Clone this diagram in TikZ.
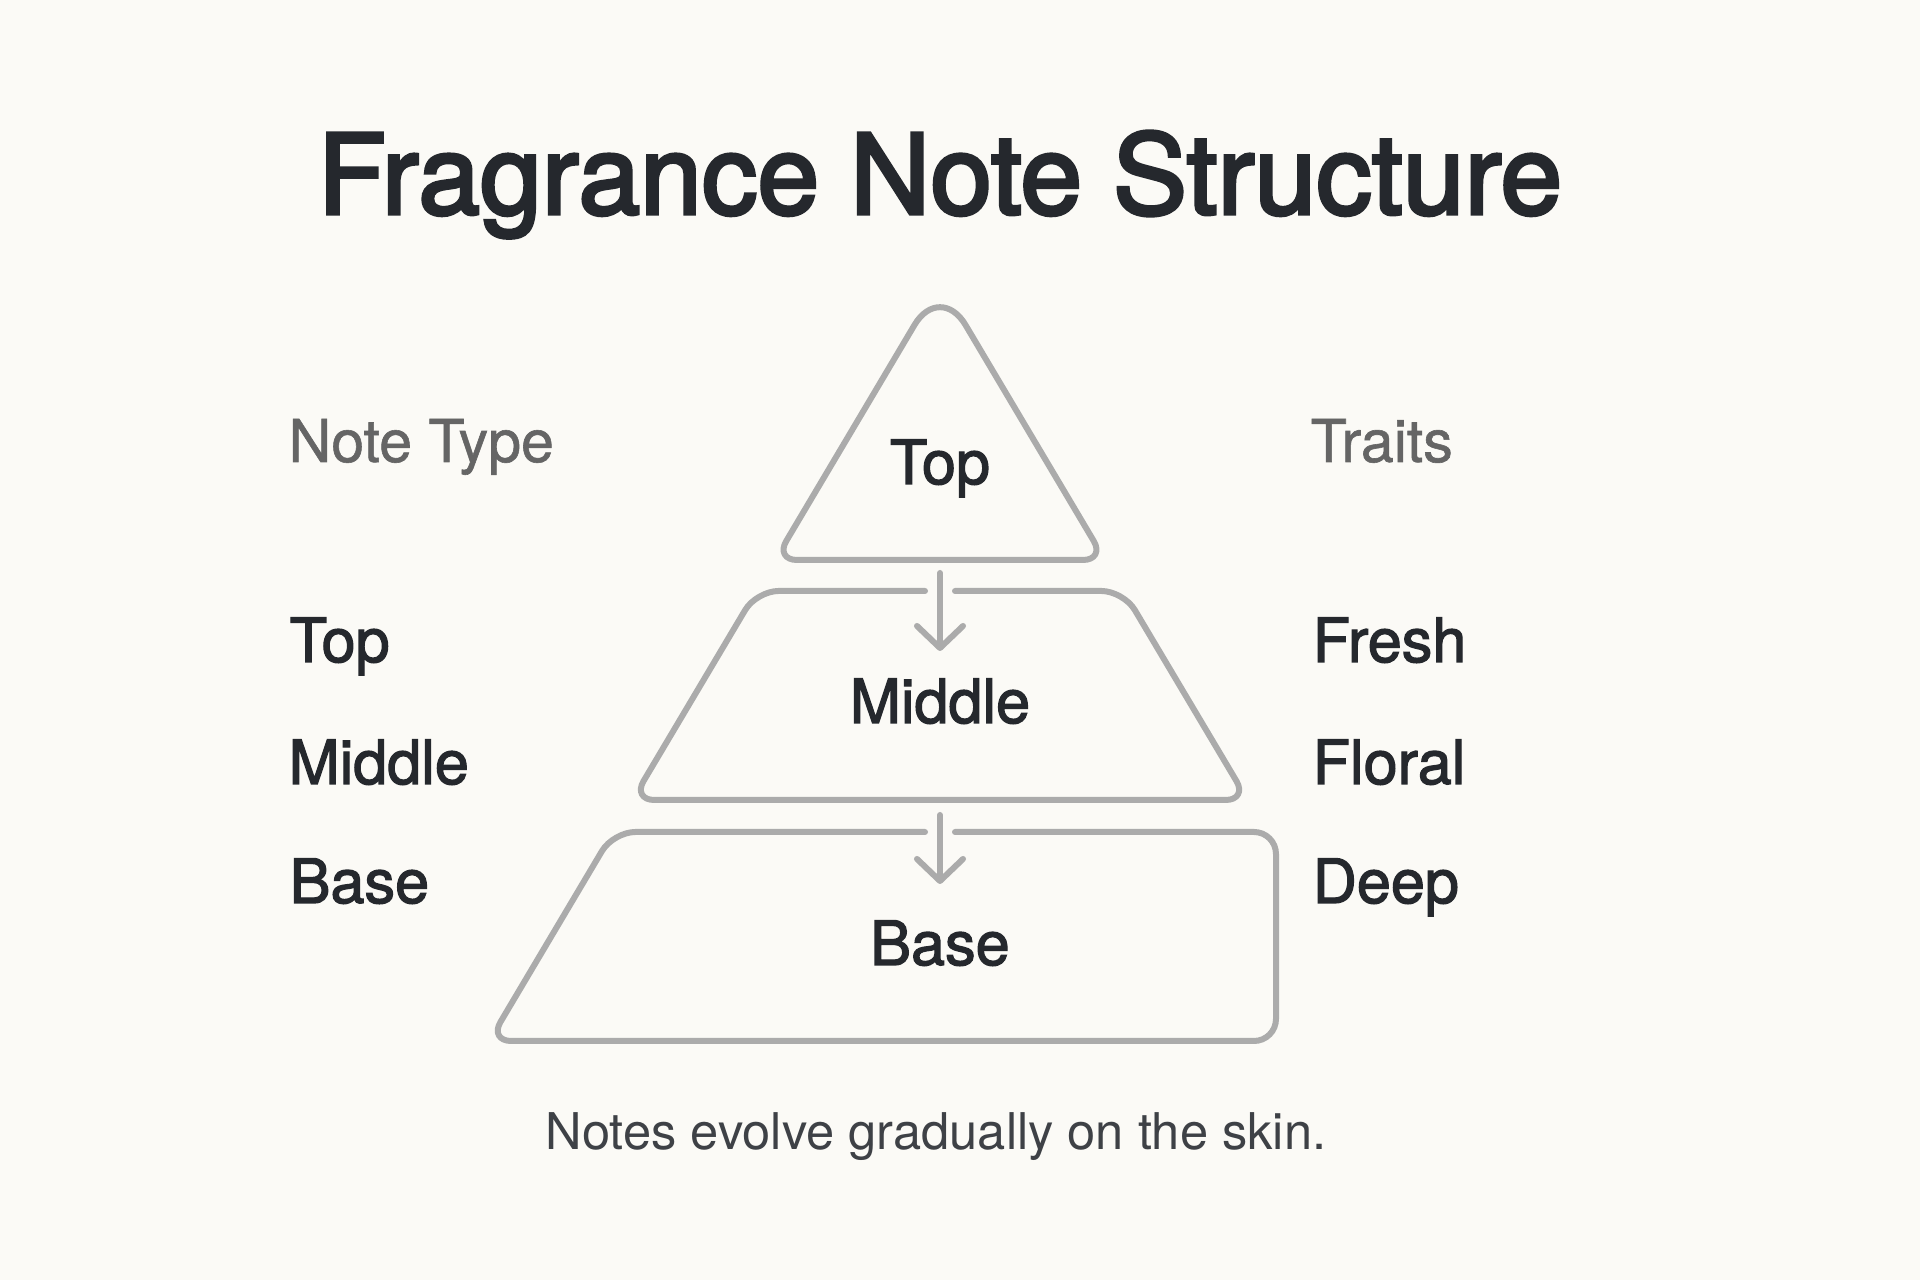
\documentclass[tikz,border=0pt]{standalone}
\usepackage{fontspec}
\setmainfont{TeX Gyre Heros}
\newfontface\titleface{TeX Gyre Heros}[FakeBold=3]
\newfontface\labelface{TeX Gyre Heros}[FakeBold=2]
\newfontface\greyface{TeX Gyre Heros}[FakeBold=1]
\usetikzlibrary{arrows.meta}

\definecolor{fondo}{HTML}{FBFAF6}
\definecolor{trazo}{HTML}{ABABAB}
\definecolor{tinta}{HTML}{25282D}
\definecolor{gris}{HTML}{656565}
\definecolor{pie}{HTML}{3E4146}

\begin{document}
\begin{tikzpicture}[x=0.01cm,y=-0.01cm,
  capa/.style={draw=trazo,line width=0.06cm,line cap=round,line join=round,rounded corners=0.22cm},
  flecha/.style={draw=trazo,line width=0.06cm,line cap=round,-{Straight Barb[length=0.22cm,width=0.46cm,round]}},
  etiqueta/.style={anchor=base,inner sep=0pt,text=tinta,font=\labelface\fontsize{17.4}{20}\selectfont},
  lateral/.style={etiqueta,anchor=base west},
  cabecera/.style={lateral,text=gris,font=\greyface\fontsize{16.8}{20}\selectfont}]
  % Fondo
  \useasboundingbox (0,0) rectangle (1920,1280);
  \fill[fondo] (0,0) rectangle (1920,1280);

  % Titulo
  \node[anchor=base,inner sep=0pt,text=tinta,font=\titleface\fontsize{31.6}{36}\selectfont] (titulo) at (940,214) {Fragrance Note Structure};

  % Piramide
  \draw[capa] (940,560) -- (1105,560) [rounded corners=0.5cm] -- (940,282) [rounded corners=0.22cm] -- (775,560) -- cycle;
  \draw[capa] (925,591) -- (756.5,591) -- (632.3,800) -- (1247.7,800) -- (1123.5,591) -- (955,591);
  \draw[capa] (925,832) -- (613.3,832) -- (489.2,1041) -- (1276,1041) -- (1276,832) -- (955,832);

  % Etiquetas de la piramide
  \node[etiqueta] (top) at (940,484) {Top};
  \node[etiqueta] (middle) at (940,723) {Middle};
  \node[etiqueta] (base) at (940,965) {Base};

  % Flechas
  \coordinate (topsale) at (940,573);
  \coordinate (middleentra) at (940,651);
  \coordinate (middlesale) at (940,815);
  \coordinate (baseentra) at (940,884);
  \draw[flecha] (topsale) -- (middleentra);
  \draw[flecha] (middlesale) -- (baseentra);

  % Columna izquierda
  \node[cabecera] (tipo) at (288,462) {Note Type};
  \node[lateral] (tipotop) at (289,662) {Top};
  \node[lateral] (tipomiddle) at (288,784) {Middle};
  \node[lateral] (tipobase) at (289,903) {Base};

  % Columna derecha
  \node[cabecera] (rasgos) at (1310,462) {Traits};
  \node[lateral] (fresh) at (1312,662) {Fresh};
  \node[lateral] (floral) at (1312,784) {Floral};
  \node[lateral] (deep) at (1312,903) {Deep};

  % Pie
  \node[anchor=base,inner sep=0pt,text=pie,font=\fontsize{14.4}{18}\selectfont] (pie) at (936,1150) {Notes evolve gradually on the skin.};

\end{tikzpicture}
\end{document}
